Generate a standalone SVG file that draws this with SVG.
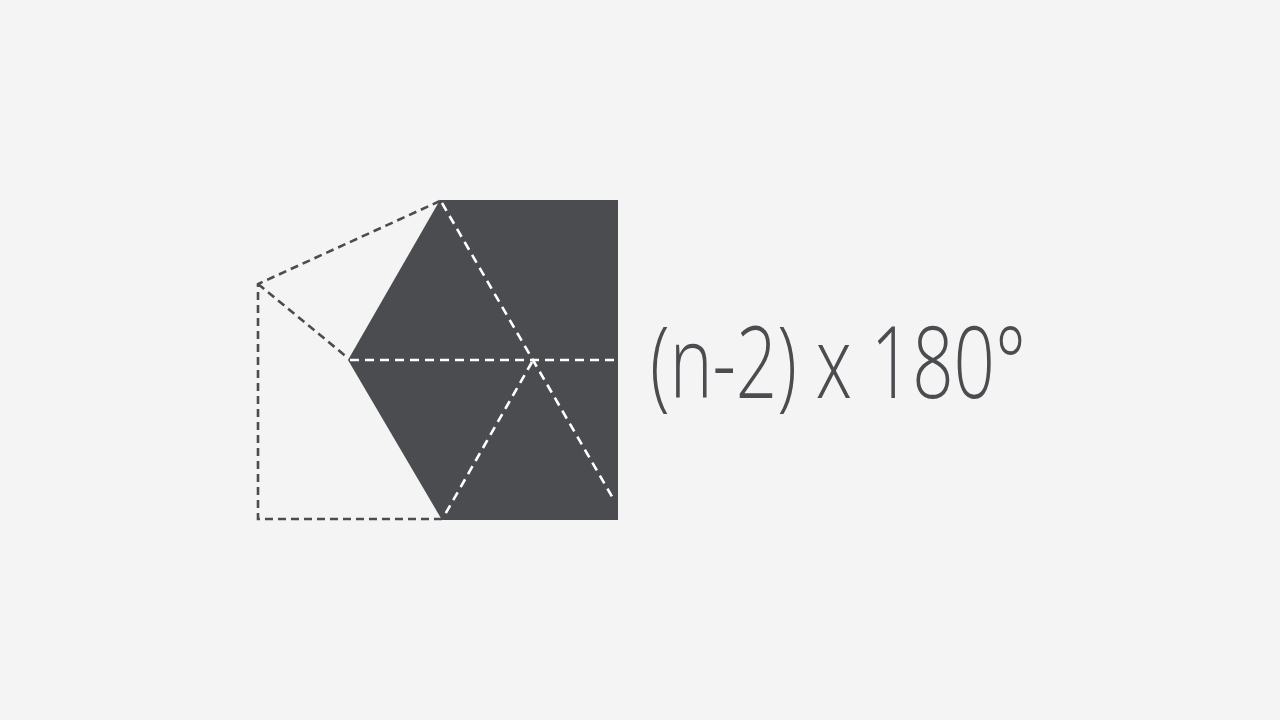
<svg xmlns="http://www.w3.org/2000/svg" width="1280" height="720" viewBox="0 0 1280 720">
  <style>
    .dark { stroke: #4a4c4f; stroke-width: 2.6; stroke-dasharray: 8 5; fill: none; }
    .light { stroke: #ffffff; stroke-width: 2.6; stroke-dasharray: 9 6; fill: none; }
    .label { font-family: "Open Sans", "Liberation Sans", sans-serif; font-weight: 350; font-size: 100px; fill: #4a4c4f; }
  </style>
  <rect width="1280" height="720" fill="#f4f4f4"/>
  <g id="hexagon-shape">
    <polygon points="440,200 618,200 618,520 442,520 348,360" fill="#4a4c4f"/>
  </g>
  <g id="connectors">
    <polyline class="dark" points="440,201 258,284 258,519 442,519"/>
    <line class="dark" x1="258" y1="284" x2="348" y2="358"/>
    <line class="light" x1="350" y1="360" x2="618" y2="360"/>
    <line class="light" x1="442" y1="203" x2="614" y2="500"/>
    <line class="light" x1="532" y1="362" x2="443" y2="518"/>
  </g>
  <g id="formula">
    <text class="label" x="650" y="398" textLength="376" lengthAdjust="spacingAndGlyphs">(n-2) x 180°</text>
  </g>
</svg>
